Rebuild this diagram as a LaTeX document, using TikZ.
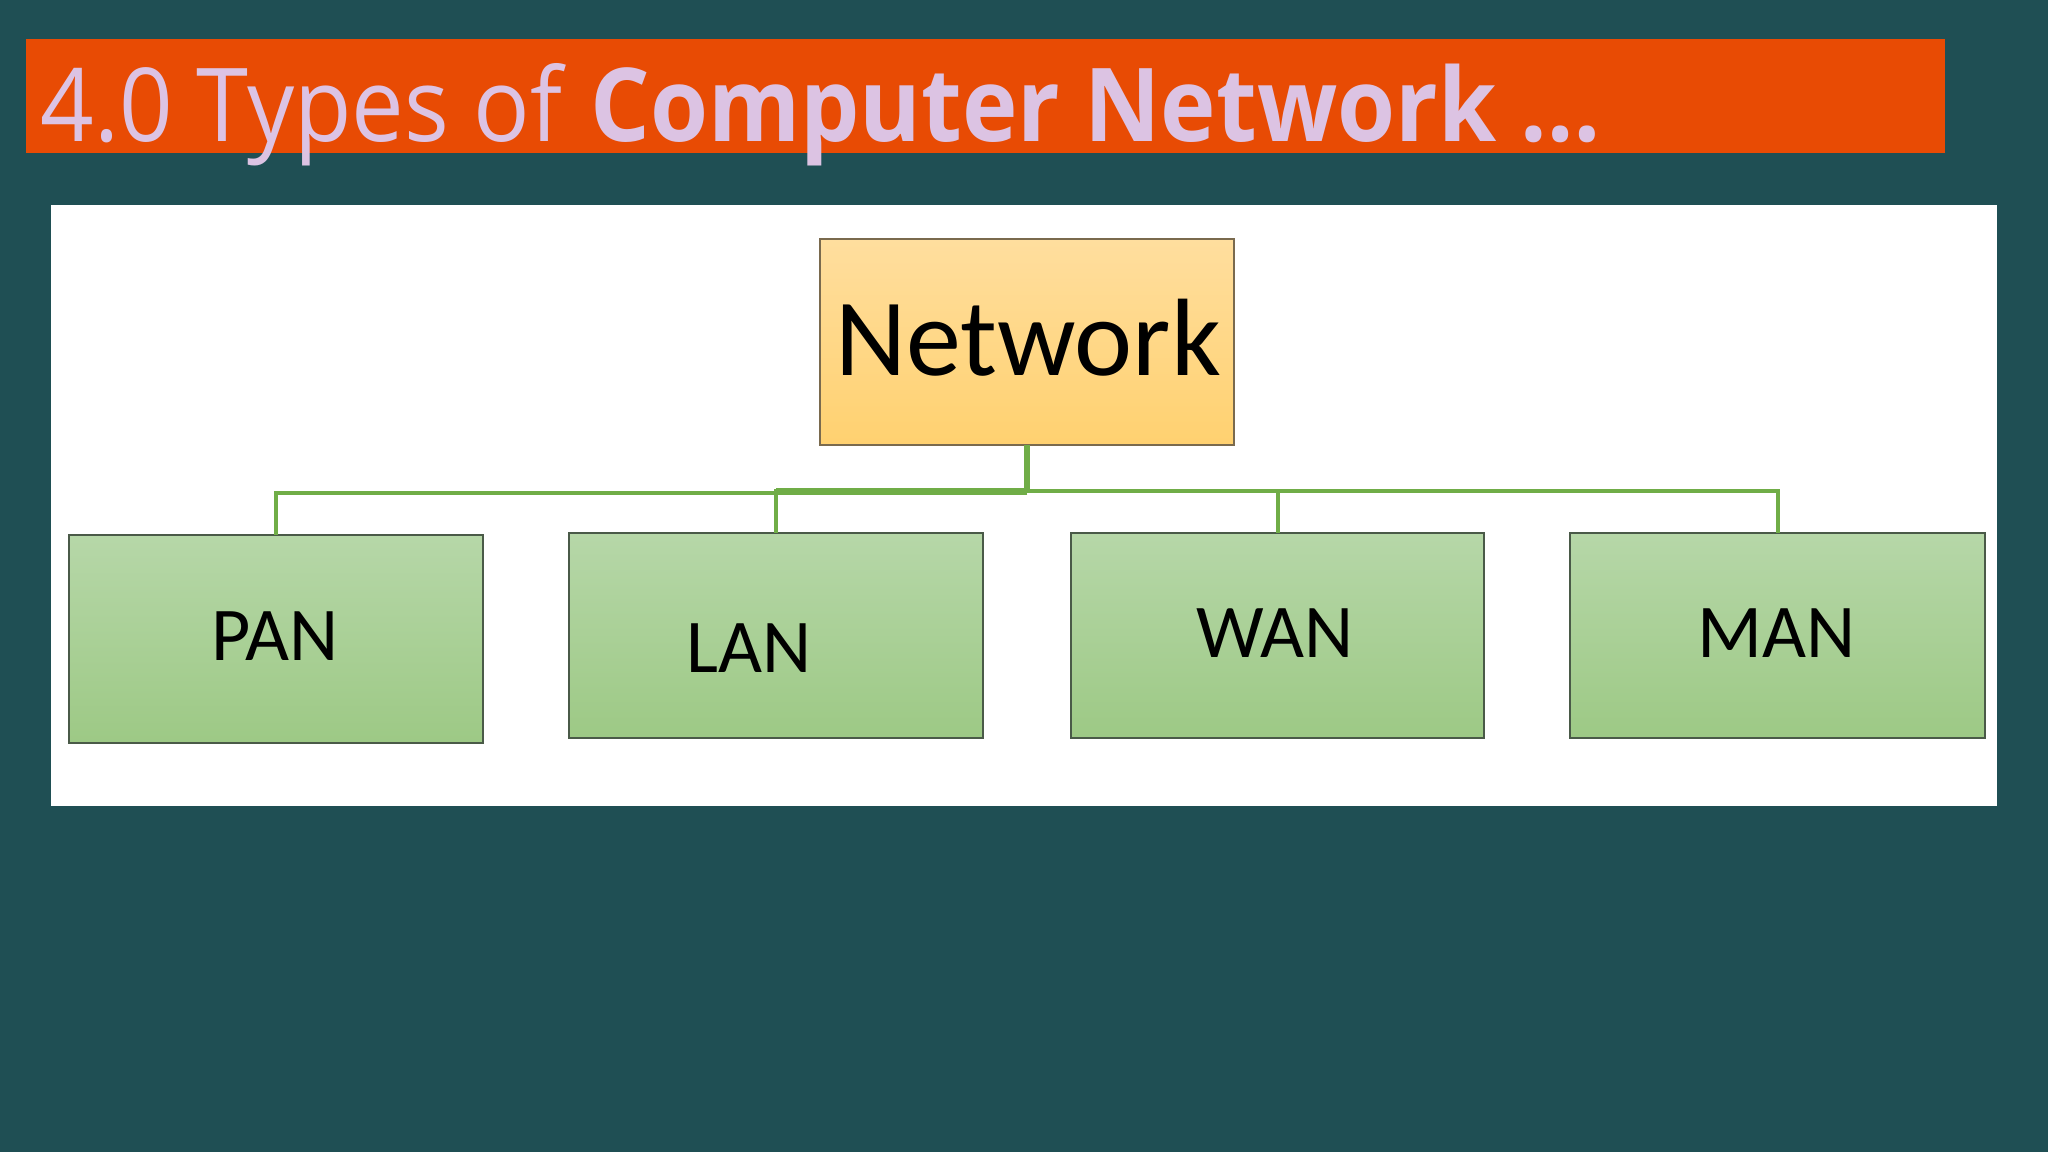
\documentclass[tikz,border=0pt]{standalone}
\usepackage{fontspec}
\usetikzlibrary{calc}
\newfontfamily\titlefont{Open Sans}
\newfontfamily\boxfont{Carlito}
\definecolor{bgteal}{HTML}{1F4F54}
\definecolor{barorange}{HTML}{E84B04}
\definecolor{titlecol}{HTML}{DCC3E3}
\definecolor{conncol}{HTML}{70AD47}
\definecolor{gtop}{HTML}{B6D7A8}
\definecolor{gbot}{HTML}{9DC985}
\definecolor{gborder}{HTML}{4A5A48}
\definecolor{otop}{HTML}{FFDE9E}
\definecolor{obot}{HTML}{FFD170}
\definecolor{oborder}{HTML}{7A6A4E}
\tikzset{
  netbox/.style={draw=oborder, line width=0.9pt, top color=otop, bottom color=obot, shading angle=0,
    minimum width=207pt, minimum height=103pt, inner sep=0pt, outer sep=0pt},
  typebox/.style={draw=gborder, line width=1.1pt, top color=gtop, bottom color=gbot,
    minimum width=207pt, minimum height=103pt, inner sep=0pt, outer sep=0pt},
  typelabel/.style={font=\boxfont\fontsize{38pt}{40pt}\selectfont, text=black, inner sep=0pt},
  conn/.style={draw=conncol, line width=2pt},
}
\begin{document}
\begin{tikzpicture}[x=0.5pt,y=-0.5pt]
\useasboundingbox (0,0) rectangle (2048,1152);
\fill[bgteal] (0,0) rectangle (2048,1152);
\fill[barorange] (26,39) rectangle (1945,153);
\node[anchor=base west, inner sep=0pt, xscale=0.92, text=titlecol, font=\titlefont\fontsize{51pt}{56pt}\selectfont] (title) at (40,141)
  {4.0 Types of \textbf{Computer Network …}};
\fill[white] (51,205) rectangle (1997,806);
\node[netbox] (net) at (1027,342) {};
\node[font=\boxfont\fontsize{55pt}{60pt}\selectfont, inner sep=0pt] (netlabel) at (1028,338) {Network};
\node[typebox, minimum height=104pt] (pan) at (276,639) {};
\node[typebox, minimum height=102.5pt] (lan) at (776,635.5) {};
\node[typebox, minimum height=102.5pt, minimum width=206.5pt] (wan) at (1277.5,635.5) {};
\node[typebox, minimum height=102.5pt, minimum width=207.5pt] (man) at (1777.5,635.5) {};
\node[typelabel] (panlabel) at (275,636) {PAN};
\node[typelabel] (lanlabel) at (749,648) {LAN};
\node[typelabel] (wanlabel) at (1275,633) {WAN};
\node[typelabel] (manlabel) at (1776,633) {MAN};
\coordinate (hub) at ($(net.south)+(0,46)$);
\coordinate (panhub) at ($(net.south)+(0,48)$);
\draw[conn] (panhub) -| (pan.north);
\draw[conn] (hub) -| (lan.north);
\draw[conn] (hub) -| (wan.north);
\draw[conn] (hub) -| (man.north);
\draw[conn, line width=3.5pt] (hub) -- (hub -| lan.north);
\draw[conn, line width=3pt] (net.south) -- (hub);
\end{tikzpicture}
\end{document}
